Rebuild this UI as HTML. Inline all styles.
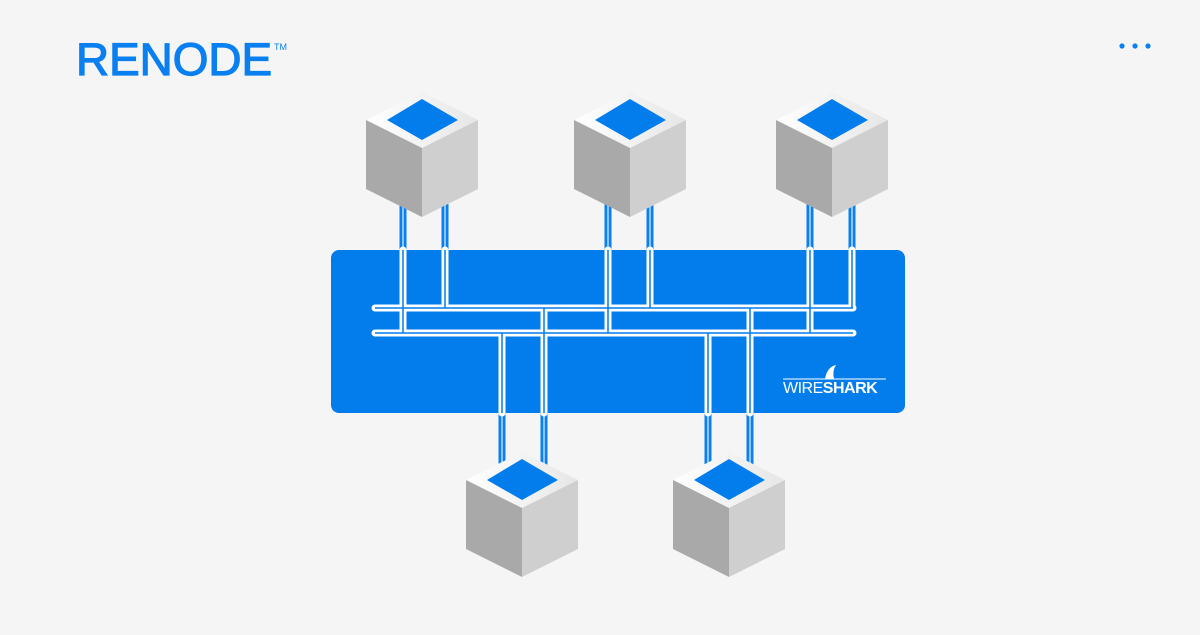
<!DOCTYPE html>
<html><head><style>
body{margin:0;width:1200px;height:630px;background:#f5f5f5;overflow:hidden;font-family:"Liberation Sans",sans-serif}
</style></head><body>
<svg width="1200" height="630" viewBox="0 0 1200 630" xmlns="http://www.w3.org/2000/svg">
<defs>
<linearGradient id="tp" x1="0" y1="0" x2="1" y2="0"><stop offset="0" stop-color="#ffffff"/><stop offset="1" stop-color="#e6e6e6"/></linearGradient>
<g id="cube">
<polygon points="0,0 56,28 0,56 -56,28" fill="url(#tp)"/>
<polygon points="-56,28 0,56 0,125 -56,97" fill="#a9a9a9"/>
<polygon points="56,28 0,56 0,125 56,97" fill="#cfcfcf"/>
<polygon points="0,7 36,28 0,48 -35,28" fill="#037cec"/>
</g>
</defs>
<text x="76" y="75" font-size="45" fill="#0a80f0" stroke="#0a80f0" stroke-width="1.2" textLength="196" lengthAdjust="spacingAndGlyphs">RENODE</text>
<text x="274" y="50" font-size="9" fill="#0a80f0">TM</text>
<circle cx="1122" cy="46" r="2.6" fill="#0a80f0"/><circle cx="1135" cy="46" r="2.6" fill="#0a80f0"/><circle cx="1148" cy="46" r="2.6" fill="#0a80f0"/>
<g stroke="#0a80f0" stroke-width="7" fill="none">
<path d="M403 200V250M445 200V250M608 200V250M650 200V250M810 200V250M852 200V250M502 413V470M544 413V470M708 413V470M750 413V470"/>
</g>
<g stroke="#8cc4fa" stroke-width="2" fill="none">
<path d="M403 200V250M445 200V250M608 200V250M650 200V250M810 200V250M852 200V250M502 413V470M544 413V470M708 413V470M750 413V470"/>
</g>
<rect x="331" y="250" width="574" height="163" rx="8" fill="#037cec"/>
<g stroke="#ffffff" stroke-width="7" fill="none" stroke-linecap="round">
<path d="M375 308H853M375 333H853M403 250V333M445 250V308M608 250V333M650 250V308M810 250V333M852 250V308M502 333V413M544 308V413M708 333V413M750 308V413"/>
</g>
<g stroke="#037cec" stroke-width="1.5" fill="none">
<path d="M375 308H853M375 333H853M403 250V333M445 250V308M608 250V333M650 250V308M810 250V333M852 250V308M502 333V413M544 308V413M708 333V413M750 308V413"/>
</g>
<g fill="#fff">
<line x1="783" y1="379" x2="886" y2="379" stroke="#fff" stroke-width="1"/>
<path d="M825 379 Q827 367 836 365 Q832 371 834 379Z"/>
<text x="783" y="393" font-size="16" letter-spacing="-0.5">WIRE<tspan font-weight="bold">SHARK</tspan></text>
</g>
<use href="#cube" x="422" y="92"/>
<use href="#cube" x="630" y="92"/>
<use href="#cube" x="832" y="92"/>
<use href="#cube" x="522" y="452"/>
<use href="#cube" x="729" y="452"/>
</svg>
</body></html>
